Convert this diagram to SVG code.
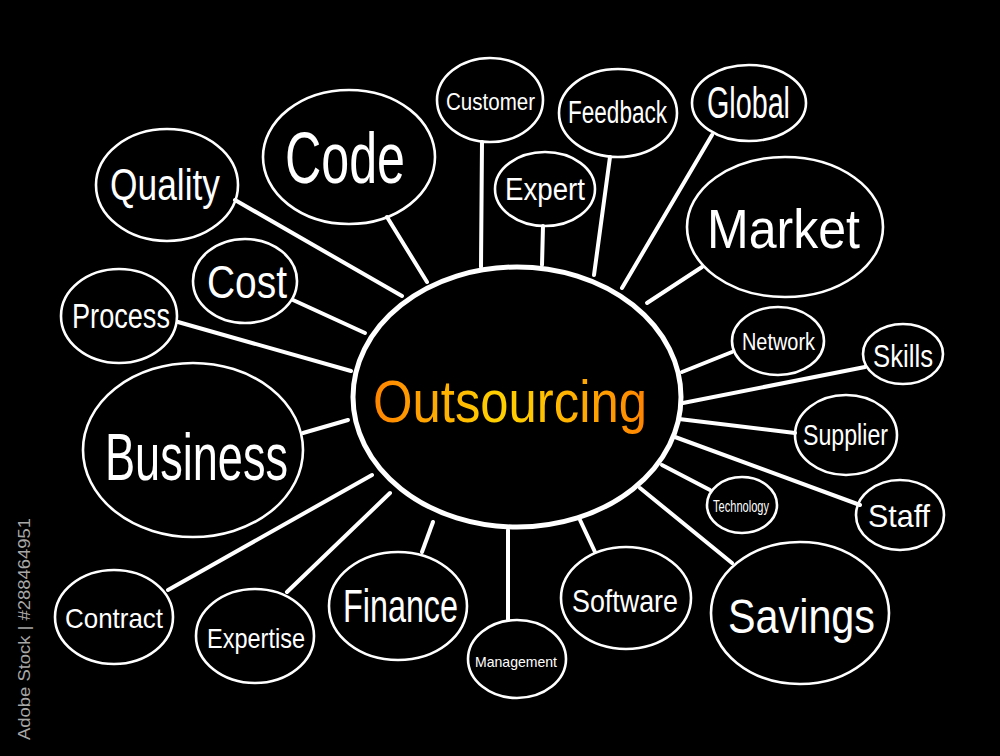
<svg xmlns="http://www.w3.org/2000/svg" width="1000" height="756" viewBox="0 0 1000 756">
<defs>
<linearGradient id="og" gradientUnits="userSpaceOnUse" x1="373" y1="0" x2="647" y2="0">
<stop offset="0" stop-color="#ff8400"/>
<stop offset="0.45" stop-color="#ffd000"/>
<stop offset="0.6" stop-color="#ffc400"/>
<stop offset="1" stop-color="#ff8400"/>
</linearGradient>
<style>
.n{fill:none;stroke:#fff;stroke-width:2.6}
.c{fill:none;stroke:#fff;stroke-width:5}
.t{fill:#fff;font-family:"Liberation Sans","DejaVu Sans",sans-serif}
#connectors line{stroke:#fff;stroke-width:4;stroke-linecap:round}
</style>
</defs>
<rect width="1000" height="756" fill="#000"/>
<g id="connectors">
<line x1="235" y1="200" x2="402" y2="296"/>
<line x1="387" y1="217" x2="427" y2="282"/>
<line x1="482" y1="142" x2="481" y2="267"/>
<line x1="543" y1="226" x2="542" y2="265"/>
<line x1="610" y1="157" x2="594" y2="275"/>
<line x1="712" y1="135" x2="622" y2="288"/>
<line x1="702" y1="267" x2="647" y2="303"/>
<line x1="732" y1="352" x2="682" y2="372"/>
<line x1="865" y1="367" x2="683" y2="403"/>
<line x1="795" y1="433" x2="679" y2="419"/>
<line x1="860" y1="505" x2="675" y2="437"/>
<line x1="710" y1="490" x2="662" y2="465"/>
<line x1="732" y1="563" x2="640" y2="488"/>
<line x1="595" y1="552" x2="580" y2="520"/>
<line x1="508" y1="530" x2="508" y2="620"/>
<line x1="433" y1="522" x2="422" y2="552"/>
<line x1="390" y1="493" x2="287" y2="592"/>
<line x1="372" y1="475" x2="168" y2="590"/>
<line x1="303" y1="433" x2="348" y2="420"/>
<line x1="178" y1="322" x2="351" y2="371"/>
<line x1="293" y1="300" x2="365" y2="333"/>
</g>
<g id="outsourcing">
<ellipse class="c" cx="517" cy="397" rx="164" ry="130"/>
<text x="373" y="422" font-size="60" textLength="274" lengthAdjust="spacingAndGlyphs" fill="url(#og)" font-family="Liberation Sans, DejaVu Sans, sans-serif">Outsourcing</text>
</g>
<g id="quality"><ellipse class="n" cx="167" cy="185" rx="71" ry="56"/><text class="t" x="110" y="200" font-size="44" textLength="110" lengthAdjust="spacingAndGlyphs">Quality</text></g>
<g id="code"><ellipse class="n" cx="349" cy="157" rx="86" ry="67"/><text class="t" x="285" y="183" font-size="72" textLength="120" lengthAdjust="spacingAndGlyphs">Code</text></g>
<g id="customer"><ellipse class="n" cx="490" cy="100" rx="53" ry="42"/><text class="t" x="446" y="110" font-size="23" textLength="89" lengthAdjust="spacingAndGlyphs">Customer</text></g>
<g id="feedback"><ellipse class="n" cx="618" cy="113" rx="59" ry="44"/><text class="t" x="568" y="123" font-size="31" textLength="99" lengthAdjust="spacingAndGlyphs">Feedback</text></g>
<g id="global"><ellipse class="n" cx="749" cy="103" rx="57" ry="38"/><text class="t" x="707" y="118" font-size="44" textLength="83" lengthAdjust="spacingAndGlyphs">Global</text></g>
<g id="expert"><ellipse class="n" cx="545" cy="189" rx="50" ry="37"/><text class="t" x="505" y="200" font-size="31" textLength="80" lengthAdjust="spacingAndGlyphs">Expert</text></g>
<g id="market"><ellipse class="n" cx="785" cy="227" rx="98" ry="70"/><text class="t" x="707" y="248" font-size="55" textLength="153" lengthAdjust="spacingAndGlyphs">Market</text></g>
<g id="cost"><ellipse class="n" cx="245" cy="281" rx="52" ry="42"/><text class="t" x="207" y="298" font-size="47" textLength="80" lengthAdjust="spacingAndGlyphs">Cost</text></g>
<g id="process"><ellipse class="n" cx="119" cy="316" rx="58" ry="47"/><text class="t" x="72" y="328" font-size="35" textLength="98" lengthAdjust="spacingAndGlyphs">Process</text></g>
<g id="network"><ellipse class="n" cx="778" cy="341" rx="46" ry="34"/><text class="t" x="742" y="350" font-size="23" textLength="73" lengthAdjust="spacingAndGlyphs">Network</text></g>
<g id="skills"><ellipse class="n" cx="903" cy="354" rx="40" ry="30"/><text class="t" x="873" y="367" font-size="32" textLength="60" lengthAdjust="spacingAndGlyphs">Skills</text></g>
<g id="business"><ellipse class="n" cx="193" cy="450" rx="110" ry="87"/><text class="t" x="105" y="480" font-size="66" textLength="183" lengthAdjust="spacingAndGlyphs">Business</text></g>
<g id="supplier"><ellipse class="n" cx="846" cy="435" rx="51" ry="40"/><text class="t" x="803" y="445" font-size="30" textLength="85" lengthAdjust="spacingAndGlyphs">Supplier</text></g>
<g id="technology"><ellipse class="n" cx="742" cy="505" rx="35" ry="28"/><text class="t" x="713" y="512" font-size="16" textLength="56" lengthAdjust="spacingAndGlyphs">Technology</text></g>
<g id="staff"><ellipse class="n" cx="900" cy="515" rx="44" ry="35"/><text class="t" x="868" y="527" font-size="32" textLength="62" lengthAdjust="spacingAndGlyphs">Staff</text></g>
<g id="savings"><ellipse class="n" cx="800" cy="613" rx="89" ry="71"/><text class="t" x="728" y="633" font-size="49" textLength="147" lengthAdjust="spacingAndGlyphs">Savings</text></g>
<g id="software"><ellipse class="n" cx="626" cy="598" rx="65" ry="51"/><text class="t" x="572" y="612" font-size="32" textLength="106" lengthAdjust="spacingAndGlyphs">Software</text></g>
<g id="management"><ellipse class="n" cx="517" cy="659" rx="49" ry="39"/><text class="t" x="475" y="667" font-size="15" textLength="82" lengthAdjust="spacingAndGlyphs">Management</text></g>
<g id="finance"><ellipse class="n" cx="398" cy="606" rx="69" ry="54"/><text class="t" x="343" y="622" font-size="46" textLength="115" lengthAdjust="spacingAndGlyphs">Finance</text></g>
<g id="expertise"><ellipse class="n" cx="255" cy="636" rx="59" ry="47"/><text class="t" x="207" y="648" font-size="28" textLength="98" lengthAdjust="spacingAndGlyphs">Expertise</text></g>
<g id="contract"><ellipse class="n" cx="114" cy="617" rx="59" ry="47"/><text class="t" x="65" y="628" font-size="28" textLength="98" lengthAdjust="spacingAndGlyphs">Contract</text></g>
<text transform="translate(30,740) rotate(-90)" x="0" y="0" font-size="17" fill="#a8a8a8" font-family="Liberation Sans, DejaVu Sans, sans-serif" textLength="222" lengthAdjust="spacingAndGlyphs">Adobe Stock | #288464951</text>
</svg>
